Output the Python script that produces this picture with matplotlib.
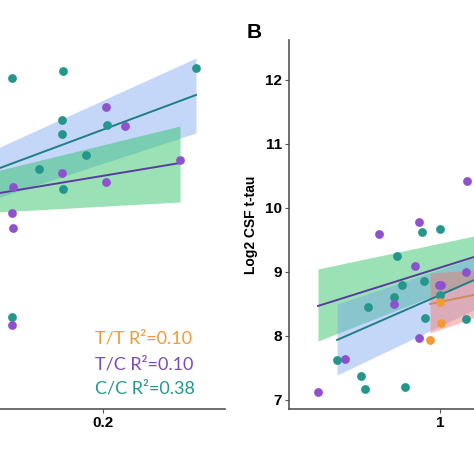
import matplotlib
matplotlib.use("Agg")
import matplotlib.pyplot as plt
import numpy as np

# ---------------- data: panel A (partly visible) ----------------
a_teal_x = [0.130, 0.169, 0.2715, 0.1685, 0.1685, 0.2031, 0.1869, 0.1508, 0.1692, 0.130]
a_teal_y = [12.03, 12.14, 12.19, 11.375, 11.16, 11.30, 10.83, 10.61, 10.30, 8.30]
a_purple_x = [0.2023, 0.2169, 0.1685, 0.1308, 0.2023, 0.2592, 0.130, 0.1308, 0.130]
a_purple_y = [11.58, 11.28, 10.55, 10.33, 10.41, 10.75, 9.92, 9.69, 8.17]

a_cc_fit_x = [0.1054, 0.2715]
a_cc_fit = [10.509, 11.766]
a_cc_lo = [10.070, 11.172]
a_cc_hi = [10.8125, 12.344]

a_tc_fit_x = [0.1054, 0.2592]
a_tc_fit = [10.183, 10.703]
a_tc_lo = [9.922, 10.094]
a_tc_hi = [10.516, 11.281]

# ---------------- data: panel B ----------------
b_purple_x = [1.179, 0.861, 0.596, 0.834, 0.993, 1.007, 1.172, 0.695, 0.861, 0.371, 0.192]
b_purple_y = [10.42, 9.78, 9.59, 9.09, 8.80, 8.80, 9.00, 8.50, 7.97, 7.64, 7.125]
b_teal_x = [0.881, 1.0, 0.715, 0.748, 0.894, 0.695, 0.523, 1.0, 0.901, 1.172, 0.318, 0.477, 0.503, 0.768]
b_teal_y = [9.625, 9.67, 9.25, 8.80, 8.86, 8.61, 8.45, 8.64, 8.28, 8.27, 7.625, 7.375, 7.17, 7.20]
b_orange_x = [1.0, 1.007, 0.934]
b_orange_y = [8.53, 8.20, 7.94]

b_tc_fit_x = [0.192, 1.53]
b_tc_fit = [8.469, 9.46]
b_tc_lo = [7.922, 9.156]
b_tc_hi = [9.047, 9.714]

b_cc_fit_x = [0.318, 1.53]
b_cc_fit = [7.9375, 9.1875]
b_cc_lo = [7.39, 8.75]
b_cc_hi = [8.5, 9.46]

b_tt_fit_x = [0.934, 1.53]
b_tt_fit = [8.5, 8.79]
b_tt_lo = [8.047, 8.53]
b_tt_hi = [8.984, 9.08]

legend_labels = ["T/T R²=0.10", "T/C R²=0.10", "C/C R²=0.38"]
a_x_ticks = [0.2]
b_x_ticks = [1]
y_ticks = [7, 8, 9, 10, 11, 12]

# ---------------- styles ----------------
C_TEAL = "#25968c"
C_PURPLE = "#8f52cf"
C_ORANGE = "#f29a35"
L_TEAL = "#1d7f84"
L_PURPLE = "#5a3c9e"
L_ORANGE = "#cf8a5a"
F_BLUE = "#6f9bf0"
F_GREEN = "#1fbf5f"
F_SALMON = "#f8766d"
SPINE = "#555555"

W = 474
fig = plt.figure(figsize=(4.74, 4.74), dpi=100)
fig.patch.set_facecolor("white")

bottom = (474 - 409) / W
top = (474 - 40) / W

# panel A axes (left part off-figure)
axA = fig.add_axes([-142 / W, bottom, (225 + 142) / W, top - bottom])
# panel B axes (right part off-figure)
axB = fig.add_axes([289 / W, bottom, 380 / W, top - bottom])

for ax in (axA, axB):
    ax.set_facecolor("none")
    ax.set_ylim(6.859, 12.625)
    for s in ("top", "right"):
        ax.spines[s].set_visible(False)
    for s in ("left", "bottom"):
        ax.spines[s].set_color(SPINE)
        ax.spines[s].set_linewidth(1.2)
    ax.tick_params(length=3, width=0.8, color=SPINE, labelsize=11, pad=2)

# ---- panel A ----
axA.set_xlim(0.0115, 0.2938)
axA.spines["left"].set_visible(False)
axA.set_yticks([])
axA.set_xticks(a_x_ticks)
axA.set_xticklabels([str(v) for v in a_x_ticks], fontweight="bold", fontsize=11,
                    family="Liberation Sans")

axA.fill_between(a_cc_fit_x, a_cc_lo, a_cc_hi, color=F_BLUE, alpha=0.4, lw=0)
axA.fill_between(a_tc_fit_x, a_tc_lo, a_tc_hi, color=F_GREEN, alpha=0.45, lw=0)
axA.plot(a_cc_fit_x, a_cc_fit, color=L_TEAL, lw=1.4)
axA.plot(a_tc_fit_x, a_tc_fit, color=L_PURPLE, lw=1.4)
axA.scatter(a_teal_x, a_teal_y, s=40, color=C_TEAL, lw=0, zorder=3)
axA.scatter(a_purple_x, a_purple_y, s=40, color=C_PURPLE, lw=0, zorder=3)

for i, (lab, col) in enumerate(zip(legend_labels, [C_ORANGE, "#7b4bb8", C_TEAL])):
    fig.text(95 / W, 1 - (339 + 25 * i) / W, lab, color=col, fontsize=13,
             family="Lato", va="center", ha="left")

# ---- panel B ----
axB.set_xlim(0.0, 380 / 151)
axB.set_xticks(b_x_ticks)
axB.set_xticklabels([str(v) for v in b_x_ticks], fontweight="bold", fontsize=11,
                    family="Liberation Sans")
axB.set_yticks(y_ticks)
axB.set_yticklabels([str(v) for v in y_ticks], fontweight="bold", fontsize=11,
                    family="Liberation Sans")
axB.set_ylabel("Log2 CSF t-tau", fontweight="bold", fontsize=10,
               family="Liberation Sans", labelpad=5)

axB.fill_between(b_tc_fit_x, b_tc_lo, b_tc_hi, color=F_GREEN, alpha=0.45, lw=0)
axB.fill_between(b_cc_fit_x, b_cc_lo, b_cc_hi, color=F_BLUE, alpha=0.4, lw=0)
axB.fill_between(b_tt_fit_x, b_tt_lo, b_tt_hi, color=F_SALMON, alpha=0.45, lw=0)
axB.plot(b_tc_fit_x, b_tc_fit, color=L_PURPLE, lw=1.4)
axB.plot(b_cc_fit_x, b_cc_fit, color=L_TEAL, lw=1.4)
axB.plot(b_tt_fit_x, b_tt_fit, color=L_ORANGE, lw=1.4)
axB.scatter(b_teal_x, b_teal_y, s=40, color=C_TEAL, lw=0, zorder=3)
axB.scatter(b_purple_x, b_purple_y, s=40, color=C_PURPLE, lw=0, zorder=3)
axB.scatter(b_orange_x, b_orange_y, s=40, color=C_ORANGE, lw=0, zorder=3)

fig.text(247 / W, 1 - 32 / W, "B", fontsize=15, fontweight="bold",
         family="Liberation Sans", va="center", ha="left")

fig.savefig("out.png", dpi=100)
